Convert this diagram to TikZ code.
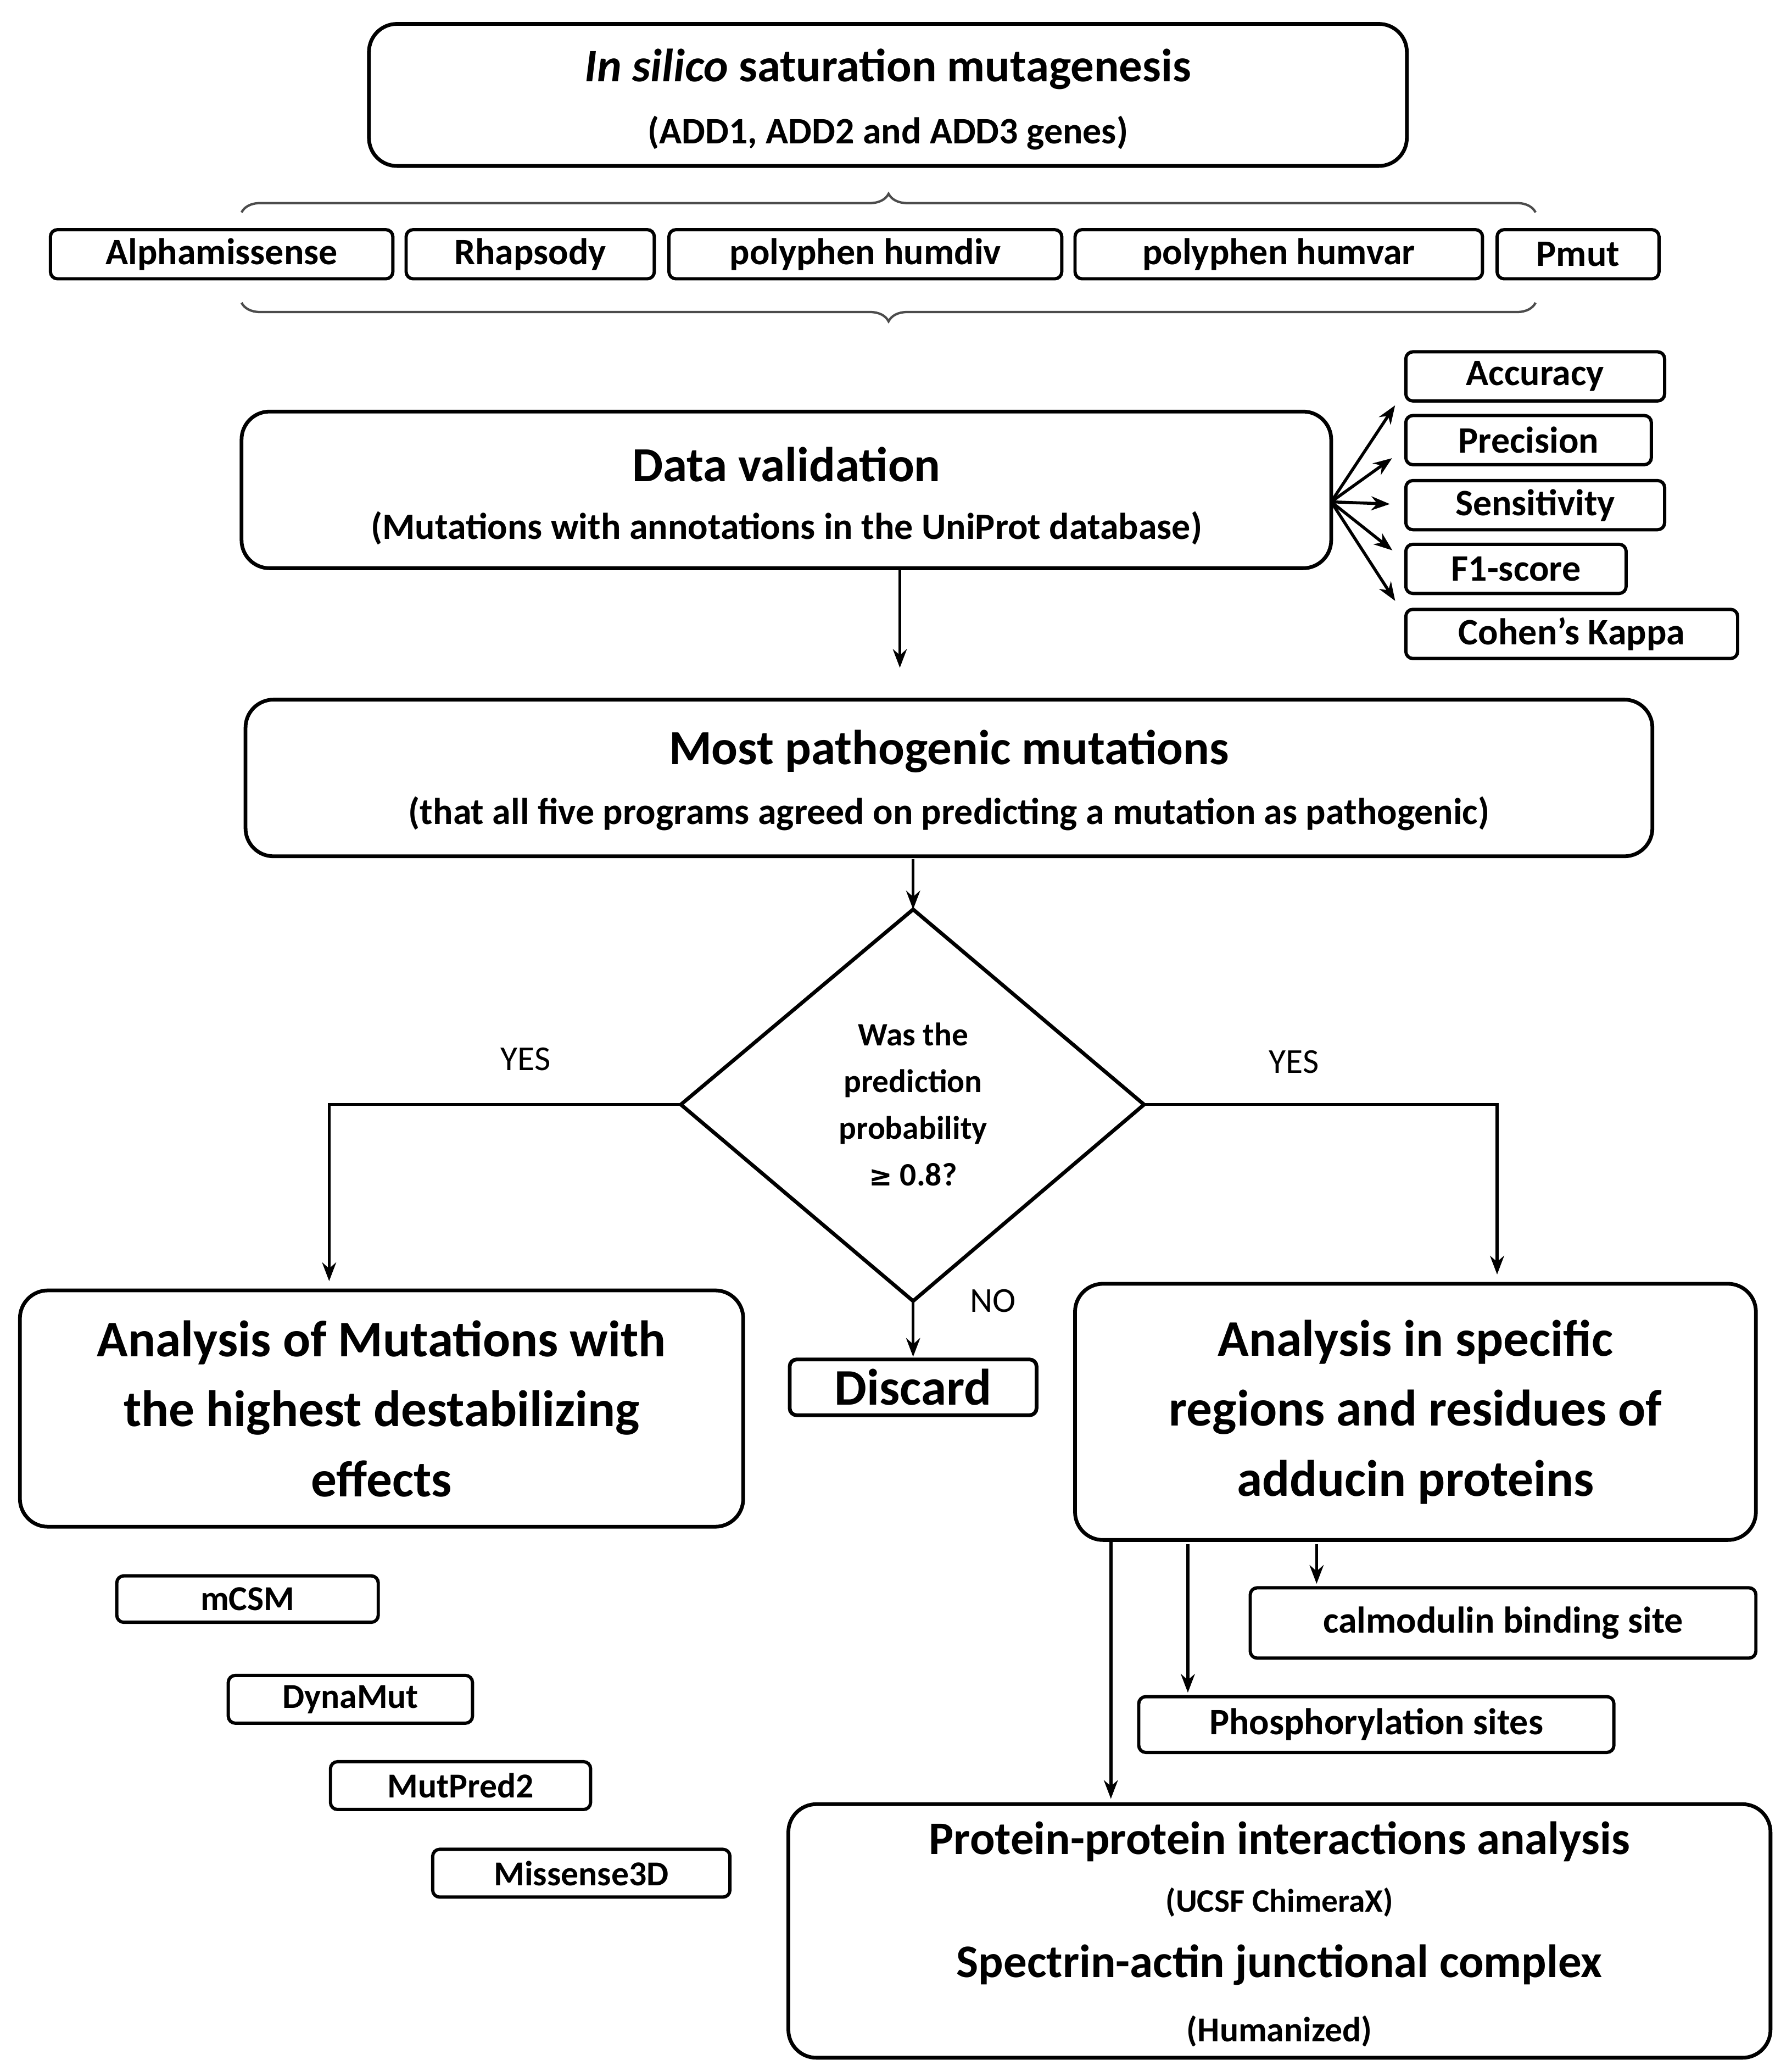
\documentclass[tikz,border=0pt]{standalone}
\usepackage{fontspec}
\setmainfont{Carlito}
\usetikzlibrary{arrows.meta,decorations.pathreplacing}
\begin{document}
\begin{tikzpicture}[x=0.02cm,y=-0.02cm,
 big/.style={draw,line width=1.6pt,rounded corners=12pt,inner sep=0pt},
 small/.style={draw,line width=1.4pt,rounded corners=3pt,inner sep=0pt,font=\bfseries\fontsize{16}{18}\selectfont},
 lbl/.style={inner sep=0pt,font=\bfseries\fontsize{#1}{#1}\selectfont},
 arr/.style={line width=1.3pt,-{Stealth[length=8pt,width=6pt]}},
 br/.style={decorate,decoration={brace,amplitude=8pt},line width=1pt,draw=black!70}]
\useasboundingbox (0,0) rectangle (1350,1560);
% top
\node[big,minimum width=782*0.02cm,minimum height=107*0.02cm] (top) at (669,71.5) {};
\node[lbl=20] (t1) at (669,52) {\textit{In silico} saturation mutagenesis};
\node[lbl=16] (t2) at (669,100) {(ADD1, ADD2 and ADD3 genes)};
\draw[br] (182,160) -- (1157,160);
\draw[br,decoration={mirror}] (182,228) -- (1157,228);
\node[small,minimum width=258*0.02cm,minimum height=37*0.02cm] (a) at (167,191.5) {Alphamissense};
\node[small,minimum width=187*0.02cm,minimum height=37*0.02cm] (r) at (399.5,191.5) {Rhapsody};
\node[small,minimum width=296*0.02cm,minimum height=37*0.02cm] (hd) at (652,191.5) {polyphen humdiv};
\node[small,minimum width=307*0.02cm,minimum height=37*0.02cm] (hv) at (963.5,191.5) {polyphen humvar};
\node[small,minimum width=122*0.02cm,minimum height=37*0.02cm] (pm) at (1189,191.5) {Pmut};
% data validation
\node[big,minimum width=821*0.02cm,minimum height=118*0.02cm] (dv) at (592.5,369) {};
\node[lbl=21] at (592.5,350) {Data validation};
\node[lbl=16] at (592.5,398) {(Mutations with annotations in the UniProt database)};
\coordinate (dvr) at (1003,378);
\node[small,anchor=west,minimum width=195*0.02cm,minimum height=37*0.02cm] (m1) at (1058,283.5) {Accuracy};
\node[small,anchor=west,minimum width=185*0.02cm,minimum height=37*0.02cm] (m2) at (1058,331.5) {Precision};
\node[small,anchor=west,minimum width=195*0.02cm,minimum height=37*0.02cm] (m3) at (1058,380.5) {Sensitivity};
\node[small,anchor=west,minimum width=166*0.02cm,minimum height=37*0.02cm] (m4) at (1058,428.5) {F1-score};
\node[small,anchor=west,minimum width=250*0.02cm,minimum height=37*0.02cm] (m5) at (1058,477.5) {Cohen's Kappa};
\foreach \m/\yy in {m1/298,m2/340,m3/380,m4/420,m5/460}
 \draw[arr,shorten >=5pt] (dvr) -- (1056,\yy);
\coordinate (dvb) at (678,428);
\coordinate (mpt) at (678,503);
\draw[arr] (dvb) -- (mpt);
% most pathogenic
\node[big,minimum width=1060*0.02cm,minimum height=118*0.02cm] (mp) at (715,586) {};
\node[lbl=21] at (715,566) {Most pathogenic mutations};
\node[lbl=16] at (715,613) {(that all five programs agreed on predicting a mutation as pathogenic)};
% diamond
\coordinate (dt) at (688,685); \coordinate (dl) at (513,832);
\coordinate (dr) at (862,832); \coordinate (db) at (688,980);
\coordinate (mpb) at (688,647);
\draw[arr] (mpb) -- (dt);
\draw[line width=1.6pt,line join=miter] (dt) -- (dr) -- (db) -- (dl) -- cycle;
\node[lbl=14,align=center] (q) at (688,832) {Was the\\[6pt]prediction\\[6pt]probability\\[6pt]{\fontspec{DejaVu Sans}\fontsize{12}{14}\selectfont≥} 0.8?};
\coordinate (lt) at (248,965); \coordinate (rt) at (1128,960);
\draw[arr] (dl) -| (lt);
\draw[arr] (dr) -| (rt);
\node[font=\fontsize{15}{15}\selectfont] at (396,798) {YES};
\node[font=\fontsize{15}{15}\selectfont] at (975,800) {YES};
\node[font=\fontsize{15}{15}\selectfont] at (748,980) {NO};
\coordinate (dit) at (688,1022);
\draw[arr] (db) -- (dit);
\node[small,line width=1.6pt,minimum width=186*0.02cm,minimum height=42*0.02cm,font=\bfseries\fontsize{22}{22}\selectfont] (disc) at (688,1045) {Discard};
% left box
\node[big,minimum width=545*0.02cm,minimum height=178*0.02cm,align=center,font=\bfseries\fontsize{22}{30}\selectfont] (lb) at (287.5,1061) {Analysis of Mutations with\\the highest destabilizing\\effects};
\node[small,font=\bfseries\fontsize{15}{15}\selectfont,minimum width=197*0.02cm,minimum height=35*0.02cm] (mc) at (186.5,1204.5) {mCSM};
\node[small,font=\bfseries\fontsize{15}{15}\selectfont,minimum width=184*0.02cm,minimum height=36*0.02cm] (dm) at (264,1280) {DynaMut};
\node[small,font=\bfseries\fontsize{15}{15}\selectfont,minimum width=196*0.02cm,minimum height=36*0.02cm] (mp2) at (347,1345) {MutPred2};
\node[small,font=\bfseries\fontsize{15}{15}\selectfont,minimum width=224*0.02cm,minimum height=36*0.02cm] (ms) at (438,1411) {Missense3D};
% right box
\node[big,minimum width=513*0.02cm,minimum height=193*0.02cm,align=center,font=\bfseries\fontsize{22}{30}\selectfont] (rb) at (1066.5,1063.5) {Analysis in specific\\regions and residues of\\adducin proteins};
\node[small,minimum width=381*0.02cm,minimum height=53*0.02cm] (cal) at (1132.5,1222.5) {calmodulin binding site};
\node[small,minimum width=358*0.02cm,minimum height=42*0.02cm] (ph) at (1037,1299) {Phosphorylation sites};
\coordinate (s1) at (992,1163); \coordinate (e1) at (992,1193);
\coordinate (s2) at (895,1163); \coordinate (e2) at (895,1275);
\coordinate (s3) at (837,1160); \coordinate (e3) at (837,1355);
\draw[arr] (s1) -- (e1);
\draw[arr] (s2) -- (e2);
\draw[arr] (s3) -- (e3);
% ppi
\node[big,minimum width=740*0.02cm,minimum height=191*0.02cm] (ppi) at (964,1454.5) {};
\node[lbl=20] at (964,1387) {Protein-protein interactions analysis};
\node[lbl=14] at (964,1433) {(UCSF ChimeraX)};
\node[lbl=20] at (964,1480) {Spectrin-actin junctional complex};
\node[lbl=15] at (964,1530) {(Humanized)};
\end{tikzpicture}
\end{document}
